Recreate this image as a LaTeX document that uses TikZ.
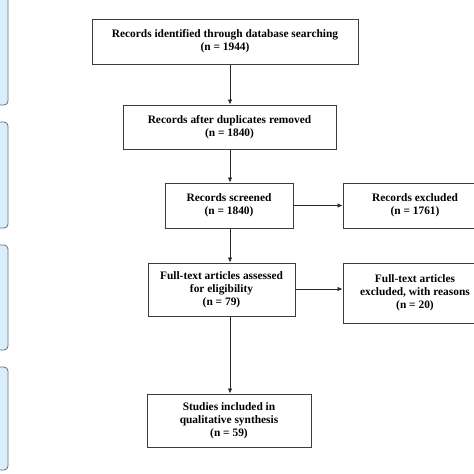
\documentclass[tikz,border=0pt]{standalone}
\usepackage{fontspec}
\setmainfont{Liberation Serif}
\usetikzlibrary{arrows.meta}
\definecolor{barfill}{RGB}{218,238,252}
\definecolor{barline}{RGB}{100,110,120}
\definecolor{boxline}{RGB}{60,60,60}
\tikzset{
  flowbox/.style={draw=boxline, line width=1pt, fill=white, align=center, inner sep=0pt,
    font=\fontsize{11.4}{12.8}\selectfont\bfseries},
  conn/.style={draw=black!85, line width=0.75pt, -{Latex[length=5pt,width=4.5pt]}},
  sidebar/.style={draw=barline, fill=barfill, line width=0.8pt, rounded corners=4pt}
}
\begin{document}
\begin{tikzpicture}[x=1pt,y=-1pt]
\useasboundingbox (0,0) rectangle (474,474);
\clip (0,0) rectangle (474,474);
\fill[white] (0,0) rectangle (474,474);
% side bars
\draw[sidebar] (-30,-6) rectangle (8,105);
\draw[sidebar] (-30,122) rectangle (8,228);
\draw[sidebar] (-30,245) rectangle (8,350);
\draw[sidebar] (-30,367) rectangle (8,470);
% boxes
\node[flowbox, minimum width=266pt, minimum height=45pt] (id) at (225,41.5)
  {Records identified through database searching\\(n = 1944)};
\node[flowbox, minimum width=213pt, minimum height=44pt] (dup) at (229.5,127)
  {Records after duplicates removed\\(n = 1840)};
\node[flowbox, minimum width=128pt, minimum height=45pt] (scr) at (229,205.5)
  {Records screened\\(n = 1840)};
\node[flowbox, minimum width=144pt, minimum height=45pt] (exc) at (415,205.5)
  {Records excluded\\(n = 1761)};
\node[flowbox, minimum width=147pt, minimum height=53pt] (full) at (221.5,289.5)
  {Full-text articles assessed\\for eligibility\\(n = 79)};
\node[flowbox, minimum width=144pt, minimum height=60pt] (fexc) at (415,293)
  {Full-text articles\\excluded, with reasons\\(n = 20)};
\node[flowbox, minimum width=164pt, minimum height=53pt] (inc) at (229,420.5)
  {Studies included in\\qualitative synthesis\\(n = 59)};
% connectors
\draw[conn] (id.south -| 230,0) -- (dup.north -| 230,0);
\draw[conn] (dup.south -| 230,0) -- (scr.north -| 230,0);
\draw[conn] (scr.south -| 230,0) -- (full.north -| 230,0);
\draw[conn] (full.south -| 230,0) -- (inc.north -| 230,0);
\draw[conn] (scr.east) -- (exc.west |- scr.east);
\draw[conn] (full.east |- 0,289) -- (fexc.west |- 0,289);
\end{tikzpicture}
\end{document}
